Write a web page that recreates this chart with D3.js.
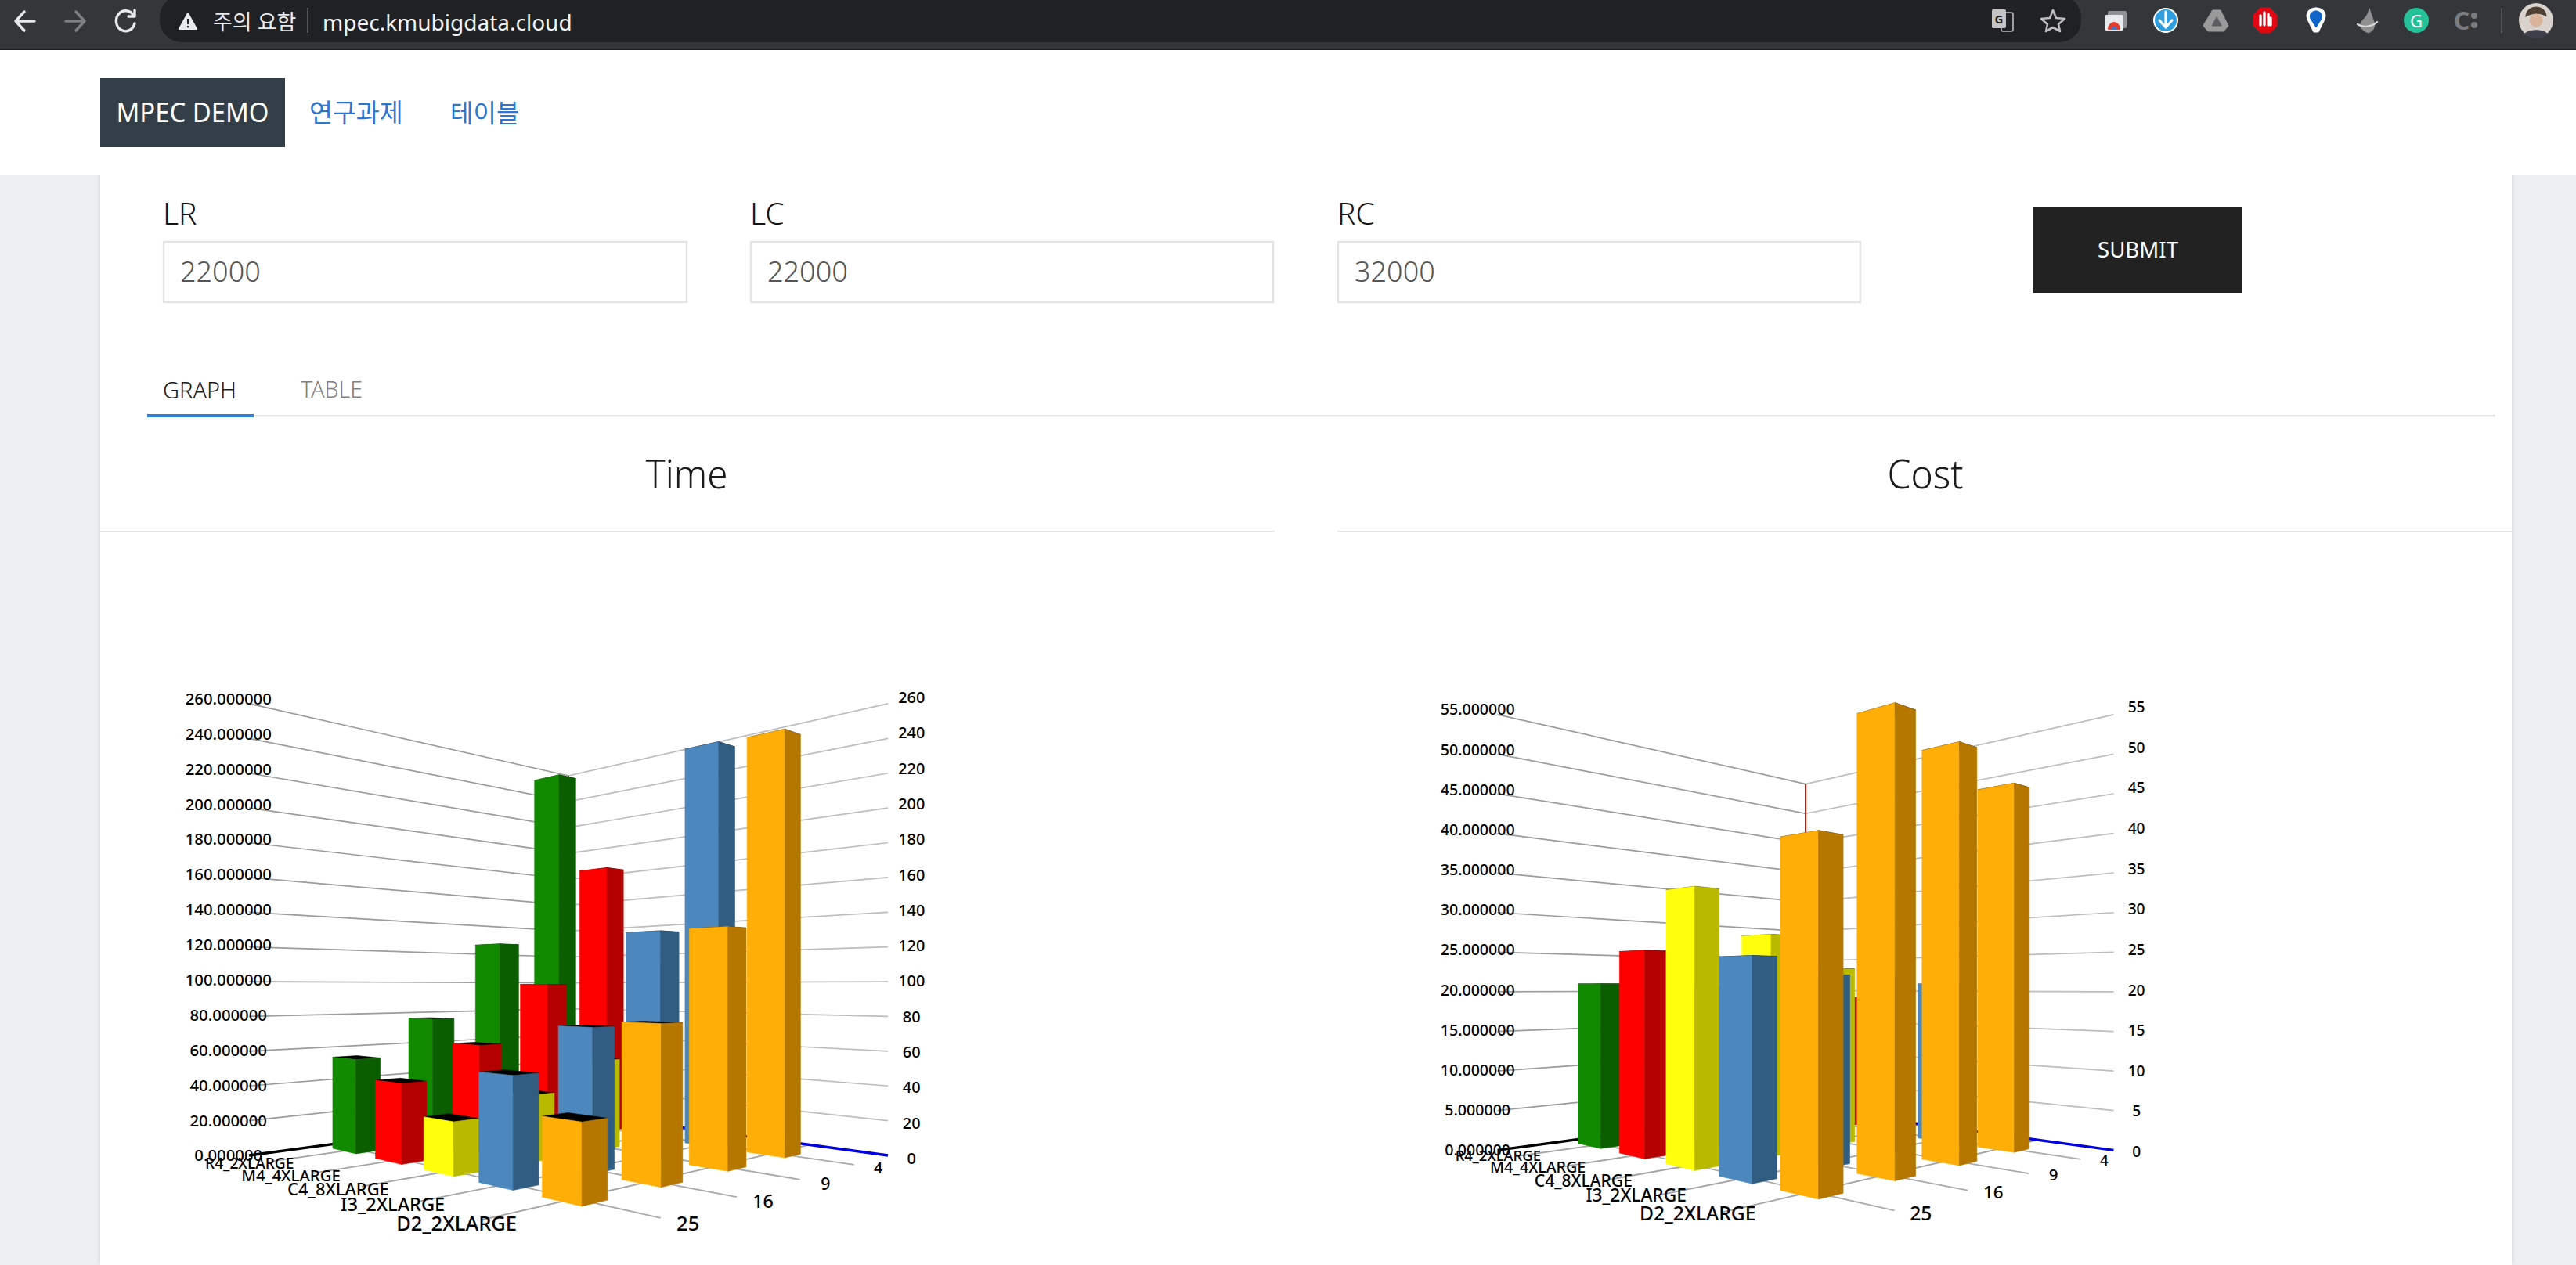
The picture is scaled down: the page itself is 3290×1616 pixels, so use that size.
<!DOCTYPE html>
<html lang="ko">
<head>
<meta charset="utf-8">
<title>MPEC DEMO</title>
<script src="https://cdnjs.cloudflare.com/ajax/libs/d3/7.8.5/d3.min.js"></script>
<style>
html,body{margin:0;padding:0;background:#ecf0f1;overflow:hidden}
svg{display:block}
text{font-family:"Noto Sans","Noto Sans CJK KR",sans-serif}
</style>
</head>
<body>
<svg id="page" width="3290" height="1616" viewBox="0 0 3290 1616"></svg>
<script>
// ---------- chart data ----------
const categories = ["R4_2XLARGE", "M4_4XLARGE", "C4_8XLARGE", "I3_2XLARGE", "D2_2XLARGE"];
const seriesLabels = ["4", "9", "16", "25"];
// one array per category, values in seriesLabels order
const timeR4 = [246.7, 125.5, 76.8, 54.8];
const timeM4 = [177, 98.5, 62.6, 44.2];
const timeC4 = [110, 53, 37, 28];
const timeI3 = [244.7, 128.5, 76, 54.8];
const timeD2 = [243.4, 128.8, 79.3, 37.3];
const costR4 = [21, 20, 20, 21];
const costM4 = [19, 20, 20.5, 25];
const costC4 = [22, 23, 27, 31.9];
const costI3 = [21, 22, 22, 23.9];
const costD2 = [46, 48.9, 50.8, 35.8];
const timeTicks = d3.range(0, 261, 20);
const costTicks = d3.range(0, 56, 5);
const barColors = ["#128a00", "#ff0000", "#ffff0c", "#4c87bd", "#ffad07"];
const barShades = ["#0b5e00", "#b50000", "#b9b900", "#315d82", "#b57700"];

// ---------- scene model ----------
const FLOOR = 0.342, WALL = 0.4837, EYE = 0.18106, BAR_X = 0.0335, BAR_Z = 0.022;
const catScale = d3.scalePoint().domain(categories).range([0.0345, 0.2753]);
const serScale = d3.scalePoint().domain(seriesLabels).range([0.2895, 0.072]);

function makeProjector(cx, cy, f) {
  return (X, Y, Z) => {
    const u = -FLOOR + X + Z, d = 1 - X + Z;
    return { x: cx + f * u / d, y: cy + f * (EYE - Y) / d, d };
  };
}
const pathOf = d3.line().x(p => p.x).y(p => p.y);
const svg = d3.select("#page");

function drawChart(g, cfg) {
  const P = makeProjector(cfg.cx, cfg.cy, cfg.f);
  const yScale = d3.scaleLinear().domain([0, cfg.max]).range([0, WALL]);
  const k = cfg.f / 1193;
  const seg = (a, b, stroke, w, cls) => g.append("path").attr("class", cls)
    .attr("d", pathOf([a, b])).attr("fill", "none").attr("stroke", stroke).attr("stroke-width", w);
  const word = (p, dy, size, s) => g.append("text").attr("x", p.x).attr("y", p.y + dy).attr("text-anchor", "middle")
    .attr("dominant-baseline", "central").attr("font-size", size * k / p.d).attr("font-weight", 500)
    .attr("fill", "#000").text(s);

  // walls
  cfg.ticks.forEach(t => {
    const y = yScale(t);
    if (t > 0) {
      seg(P(0, y, 0), P(0, y, FLOOR), "#9c9c9c", 1.7, "grid-left");
      seg(P(0, y, FLOOR), P(FLOOR, y, FLOOR), "#bdbdbd", 1.7, "grid-right");
    }
    word(P(-0.0035, y, -0.0145), -3, 20.1, d3.format(".6f")(t));
    word(P(0.361, y, 0.341), cfg.rightDy, 19.5, t);
  });
  // floor lines
  categories.forEach(c => seg(P(catScale(c), 0, 0), P(catScale(c), 0, FLOOR), "#a4a4a4", 1.8, "floor"));
  seriesLabels.forEach(s => seg(P(0, 0, serScale(s)), P(FLOOR, 0, serScale(s)), "#aaaaaa", 1.8, "floor"));
  // axes
  seg(P(0, 0, 0), P(0, 0, FLOOR), "#000", 3.4, "axis-x");
  seg(P(0, 0, FLOOR), P(FLOOR, 0, FLOOR), "#0000e0", 3.4, "axis-z");
  seg(P(0, 0, FLOOR), P(0, WALL, FLOOR), "#ff0000", 2, "axis-y");

  // bars, far to near
  const bars = [];
  seriesLabels.forEach((s, j) => categories.forEach((c, i) => {
    bars.push({ i, s, c, v: cfg.values[i][j] });
  }));
  const ordered = d3.sort(bars, (a, b) => d3.ascending(serScale(b.s), serScale(a.s)) || d3.ascending(a.i, b.i));
  const groups = g.selectAll("g.bar").data(ordered).join("g").attr("class", "bar");
  groups.each(function (b) {
    const x0 = catScale(b.c) - BAR_X / 2, x1 = catScale(b.c) + BAR_X / 2;
    const z0 = serScale(b.s) - BAR_Z / 2, z1 = serScale(b.s) + BAR_Z / 2;
    const h = yScale(b.v), bar = d3.select(this);
    const face = (pts, fill) => bar.append("path").attr("d", pathOf(pts) + "Z").attr("fill", fill)
      .attr("stroke", fill).attr("stroke-width", 0.6);
    face([P(x0, h, z0), P(x1, h, z0), P(x1, h, z1), P(x0, h, z1)], "#000");
    face([P(x0, 0, z0), P(x1, 0, z0), P(x1, h, z0), P(x0, h, z0)], barColors[b.i]);
    face([P(x1, 0, z0), P(x1, 0, z1), P(x1, h, z1), P(x1, h, z0)], barShades[b.i]);
  });

  // floor labels
  categories.forEach(c => word(P(catScale(c) - 0.005, 0, -0.014), cfg.floorDy, 18.3, c));
  seriesLabels.forEach(s => word(P(FLOOR + 0.0175, 0, serScale(s) + 0.002), cfg.floorDy, 18.3, s));
}

// ---------- page furniture ----------
const rect = (x, y, w, h, fill, extra) => {
  const r = svg.append("rect").attr("x", x).attr("y", y).attr("width", w).attr("height", h).attr("fill", fill);
  if (extra) Object.entries(extra).forEach(([a, v]) => r.attr(a, v));
  return r;
};
const label = (x, y, s, size, fill, anchor, weight, len) => {
  const t = svg.append("text").attr("x", x).attr("y", y)
    .attr("font-size", size).attr("fill", fill).attr("text-anchor", anchor || "start")
    .attr("dominant-baseline", "central").attr("font-weight", weight || 400).text(s);
  if (len) t.attr("textLength", len).attr("lengthAdjust", "spacingAndGlyphs");
  return t;
};

// page body
rect(0, 0, 3290, 1616, "#ecf0f1");
rect(128, 200, 3080, 1416, "#fff").style("filter", "drop-shadow(0 0 3px rgba(0,0,0,.12))");
rect(0, 64, 3290, 160, "#fff");

// browser chrome
rect(0, 0, 3290, 62, "#35363a");
rect(0, 62, 3290, 2, "#202124");
rect(204, -6, 2454, 60, "#202124", { rx: 28 });
const ico = (d, stroke, w, fill) => svg.append("path").attr("d", d).attr("fill", fill || "none")
  .attr("stroke", stroke).attr("stroke-width", w).attr("stroke-linecap", "round").attr("stroke-linejoin", "round");
const dot = (x, y, r, fill, stroke, w) => svg.append("circle").attr("cx", x).attr("cy", y).attr("r", r)
  .attr("fill", fill).attr("stroke", stroke || "none").attr("stroke-width", w || 0);
ico("M44 27H21M31 15L20 27L31 39", "#e8eaed", 3.4);
ico("M84 27H107M97 15L108 27L97 39", "#7d7f83", 3.4);
ico("M170 19A12 13 0 1 0 172 30M172 13V21H164", "#e8eaed", 3.4);
ico("M240 17L251 37H229Z", "#e8eaed", 2, "#e8eaed");
rect(239, 24, 2.4, 7, "#202124");
rect(239, 33, 2.4, 2.4, "#202124");
label(272, 27, "주의 요함", 27, "#e8eaed");
rect(392.5, 10, 1.5, 32, "#7f8185");
label(412, 28, "mpec.kmubigdata.cloud", 28, "#f1f3f4");
// toolbar icons
rect(2556, 16, 15, 24, "#202124", { rx: 2, stroke: "#bdbdbd", "stroke-width": 1.6 });
rect(2544, 12, 18, 24, "#c4c4c4", { rx: 2 });
label(2553, 24, "G", 15, "#202124", "middle", 700);
ico("M2622 13L2626 23L2637 24L2629 31L2631 40L2622 35L2613 40L2615 31L2607 24L2618 23Z", "#bdbdbd", 2.6);
rect(2692, 14, 24, 22, "#8f9296", { rx: 2 });
rect(2688, 19, 24, 20, "#e8eaed", { rx: 2 });
ico("M2693 37A7 8 0 0 1 2707 37Z", "#e04030", 2, "#e04030");
ico("M2698 36H2702", "#3a78e0", 3);
dot(2766, 26, 15, "#2e9ee0", "#fff", 2);
ico("M2766 15V33M2758 26L2766 35L2774 26", "#fff", 3.2);
ico("M2826 13H2836L2846 33L2840 40H2820L2814 33Z", "#9a9a9a", 1, "#9a9a9a");
ico("M2831 22L2825 33H2837Z", "#5b5d60", 1, "#5b5d60");
ico("M2887 10H2899L2908 19V33L2899 42H2887L2878 33V19Z", "#e30613", 1, "#e30613");
ico("M2887 32V20M2892 32V16M2897 32V18M2900 32V23", "#fff", 3.4);
ico("M2958 10C2948 10 2944 17 2947 25L2955 41H2961L2969 25C2972 17 2968 10 2958 10Z", "#fff", 1, "#fff");
ico("M2958 14C2952 14 2949 19 2951 24L2958 35L2965 24C2967 19 2964 14 2958 14Z", "#1265c8", 1, "#1265c8");
ico("M3026 11L3032 28C3034 36 3030 40 3025 42C3018 40 3012 34 3016 28C3018 24 3024 22 3026 11Z", "#8f8f8f", 1, "#8f8f8f");
ico("M3011 31C3018 36 3030 34 3036 28", "#d8d8d8", 2.4);
dot(3086, 26, 16, "#25c29a");
label(3086, 26, "G", 22, "#fff", "middle", 400);
label(3144, 25, "C", 32, "#7a7c80", "middle", 700);
dot(3160, 20, 4, "#7a7c80");
dot(3160, 32, 4, "#7a7c80");
rect(3194.5, 10, 1.5, 32, "#66686c");
dot(3239, 26, 22, "#d9d2cc");
ico("M3226 21C3226 5 3252 5 3252 21C3246 16 3234 16 3226 21Z", "#4f4036", 1, "#4f4036");
dot(3239, 26, 8.5, "#d9b39a");
ico("M3224 44C3228 37 3250 37 3254 44L3244 48H3234Z", "#3f3f4c", 1, "#3f3f4c");

// nav
rect(128, 100, 236, 88, "#343e48");
label(246, 143, "MPEC DEMO", 34, "#fff", "middle", 400, 195);
label(395, 143, "연구과제", 32.5, "#2b78d0");
label(575, 143, "테이블", 32, "#2b78d0");

// form
const fields = [["LR", 208, 670], ["LC", 958, 669], ["RC", 1708, 669]];
const fieldValues = ["22000", "22000", "32000"];
fields.forEach((fd, i) => {
  label(fd[1], 271, fd[0], 39, "#151515", "start", 300);
  rect(fd[1] + 1, 309, fd[2] - 2, 77, "#fff", { stroke: "#e4e4e4", "stroke-width": 2.4 });
  label(fd[1] + 22, 346, fieldValues[i], 36, "#555", "start", 300);
});
rect(2597, 264, 267, 110, "#222");
label(2730.5, 318, "SUBMIT", 28, "#fff", "middle", 400, 103);

// tabs
label(208, 497, "GRAPH", 29, "#1c1c1c", "start", 300);
label(384, 497, "TABLE", 28.5, "#808080", "start", 300);
rect(188, 530, 2999, 2.4, "#e2e2e2");
rect(188, 529, 136, 4, "#2b7de0");

// panels
label(877, 603, "Time", 52, "#1c1c1c", "middle", 300, 105);
label(2459, 603, "Cost", 52, "#1c1c1c", "middle", 300, 97);
rect(128, 678, 1500, 2, "#e4e4e4");
rect(1708, 678, 1500, 2, "#e4e4e4");

drawChart(svg.append("g").attr("id", "time"), {
  cx: 726, cy: 1260, f: 1193, max: 260, ticks: timeTicks, rightDy: -1, floorDy: 0,
  values: [timeR4, timeM4, timeC4, timeI3, timeD2]
});
drawChart(svg.append("g").attr("id", "cost"), {
  cx: 2306, cy: 1261, f: 1150.5, max: 55, ticks: costTicks, rightDy: -3, floorDy: -3,
  values: [costR4, costM4, costC4, costI3, costD2]
});
</script>
</body>
</html>
